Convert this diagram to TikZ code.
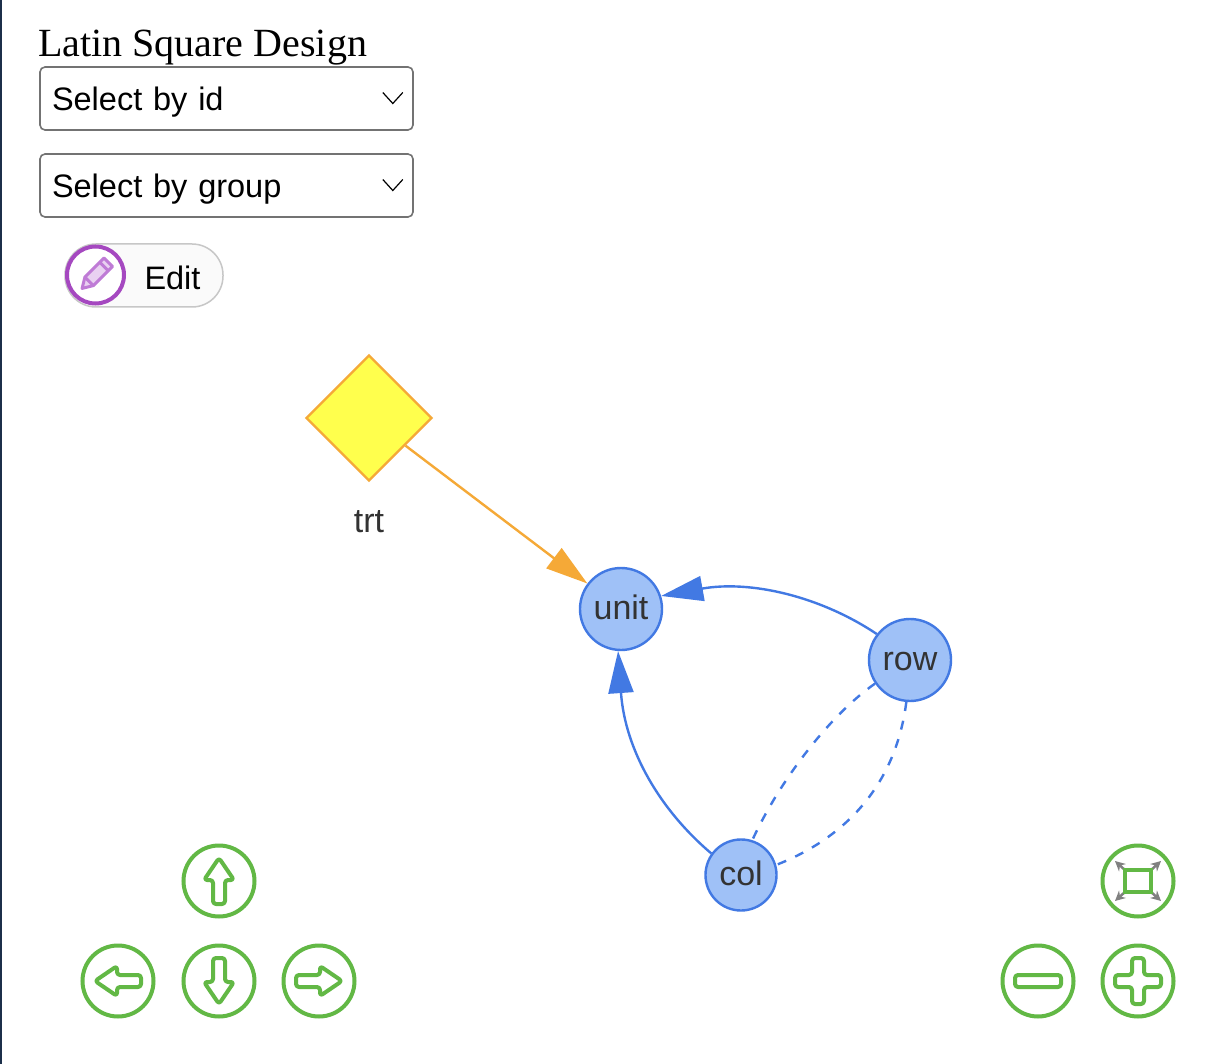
\documentclass[tikz,border=0pt]{standalone}
\usepackage{fontspec}
\setmainfont{Liberation Sans}
\newfontfamily\titlefont{Liberation Serif}
\usetikzlibrary{shapes.geometric,arrows.meta}

\definecolor{nodeblue}{HTML}{9FC1F7}
\definecolor{edgeblue}{HTML}{4279E3}
\definecolor{trtyellow}{HTML}{FFFF4D}
\definecolor{trtorange}{HTML}{F5A937}
\definecolor{navgreen}{HTML}{62B845}
\definecolor{editpurple}{HTML}{A548C0}
\definecolor{pencilpurple}{HTML}{BF7BD6}
\definecolor{pagenavy}{HTML}{1C2F4A}

\tikzset{
	varnode/.style={circle,draw=edgeblue,fill=nodeblue,line width=2.4pt,inner sep=0pt,text=black!80,text height=20pt,text depth=0pt,font=\fontsize{34}{38}\selectfont},
	blueedge/.style={edgeblue,line width=2.4pt,-{Triangle[length=42pt,width=25pt]}},
	dashedge/.style={edgeblue,line width=2.4pt,dash pattern=on 9pt off 10pt},
	selectbox/.style={draw=black!55,line width=1.6pt,rounded corners=5pt,text width=349pt,inner xsep=12pt,minimum height=63pt,text height=24pt,text depth=0pt,align=left,font=\fontsize{32.5}{38}\selectfont},
	navbtn/.style={circle,draw=navgreen,line width=4pt,minimum size=71pt,inner sep=0pt},
	navicon/.style={navgreen,line width=4pt,rounded corners=3pt,line join=round},
	fiticon/.style={black!50,line width=2.5pt,-{Stealth[length=10pt,width=10pt]}},
}

\begin{document}
\begin{tikzpicture}[x=1pt,y=-1pt]
	\useasboundingbox (0,0) rectangle (1232,1064);
	\fill[white] (0,0) rectangle (1232,1064);
	\fill[pagenavy] (0,0) rectangle (1.5,1064);

	\node[anchor=base west,inner sep=0pt,font=\titlefont\fontsize{40}{46}\selectfont] (title) at (38,57) {Latin Square Design};
	\node[selectbox] (selectid) at (226.5,98.5) {Select by id};
	\node[selectbox] (selectgroup) at (226.5,185.5) {Select by group};
	\foreach \sel in {selectid,selectgroup}
		\draw[black,line width=1.2pt] ([shift={(-31pt,6pt)}]\sel.east) -- ([shift={(-21pt,-5pt)}]\sel.east) -- ([shift={(-11pt,6pt)}]\sel.east);

	% edit button
	\node[draw=black!22,fill=black!2,line width=1.5pt,rounded corners=31pt,minimum width=158pt,minimum height=63pt,inner sep=0pt] (editbtn) at (144,275.5) {};
	\node[font=\fontsize{32.5}{38}\selectfont] (edit) at (172.5,278) {Edit};
	\node[circle,draw=editpurple,fill=white,line width=4pt,minimum size=57pt,inner sep=0pt] (editicon) at (95.5,275) {};
	\begin{scope}[shift={(editicon.center)},rotate=-45,pencilpurple,line width=3pt,line join=round]
		\draw[fill=pencilpurple!35] (-6,-18) -- (6,-18) -- (6,9) -- (0,19) -- (-6,9) -- cycle;
		\draw (-6,-12) -- (6,-12);
		\draw (-6,9) -- (6,9);
	\end{scope}

	% graph
	\node[diamond,draw=trtorange,fill=trtyellow,line width=2.4pt,minimum size=126pt,inner sep=0pt] (trt) at (369,418) {};
	\node[text=black!80,font=\fontsize{34}{38}\selectfont] (trtlabel) at (369,522) {trt};
	\node[varnode,minimum size=82pt] (unit) at (621,609) {unit};
	\node[varnode,minimum size=82pt] (row) at (910,660) {row};
	\node[varnode,minimum size=71pt] (col) at (741,875) {col};

	\draw[trtorange,line width=2.4pt,-{Triangle[length=42pt,width=25pt]}] (trt) -- (unit);
	\draw[blueedge] (row.142) .. controls (820,596) and (750,580) .. (unit.18);
	\draw[blueedge] (col.144) .. controls (660,810) and (625,750) .. (unit.266);
	\draw[dashedge] (row.214) .. controls (830,715) and (780,780) .. (col.72);
	\draw[dashedge] (row.265) .. controls (895,790) and (840,840) .. (col.16);

	% navigation buttons
	\foreach \name/\xpos/\ypos/\ang in {up/219/881/0,left/118/981/90,down/219/981/180,right/319/981/-90}{
		\node[navbtn] (\name btn) at (\xpos,\ypos) {};
		\draw[navicon,shift={(\name btn.center)},rotate=\ang] (0,-23) -- (15,-1) -- (6,-1) -- (6,23) -- (-6,23) -- (-6,-1) -- (-15,-1) -- cycle;
	}
	\node[navbtn] (fitbtn) at (1138,881) {};
	\node[navbtn] (minusbtn) at (1038,981) {};
	\node[navbtn] (plusbtn) at (1138,981) {};
	\draw[navicon,shift={(minusbtn.center)}] (-23,-6) rectangle (23,6);
	\draw[navicon,shift={(plusbtn.center)}] (-6,-23) -- (6,-23) -- (6,-6) -- (23,-6) -- (23,6) -- (6,6) -- (6,23) -- (-6,23) -- (-6,6) -- (-23,6) -- (-23,-6) -- (-6,-6) -- cycle;
	\begin{scope}[shift={(fitbtn.center)}]
		\foreach \sx/\sy in {1/1,1/-1,-1/1,-1/-1}
			\draw[fiticon] (\sx*12,\sy*10) -- (\sx*23,\sy*20);
		\draw[navgreen,line width=4pt] (-13,-11) rectangle (13,11);
	\end{scope}
\end{tikzpicture}
\end{document}
